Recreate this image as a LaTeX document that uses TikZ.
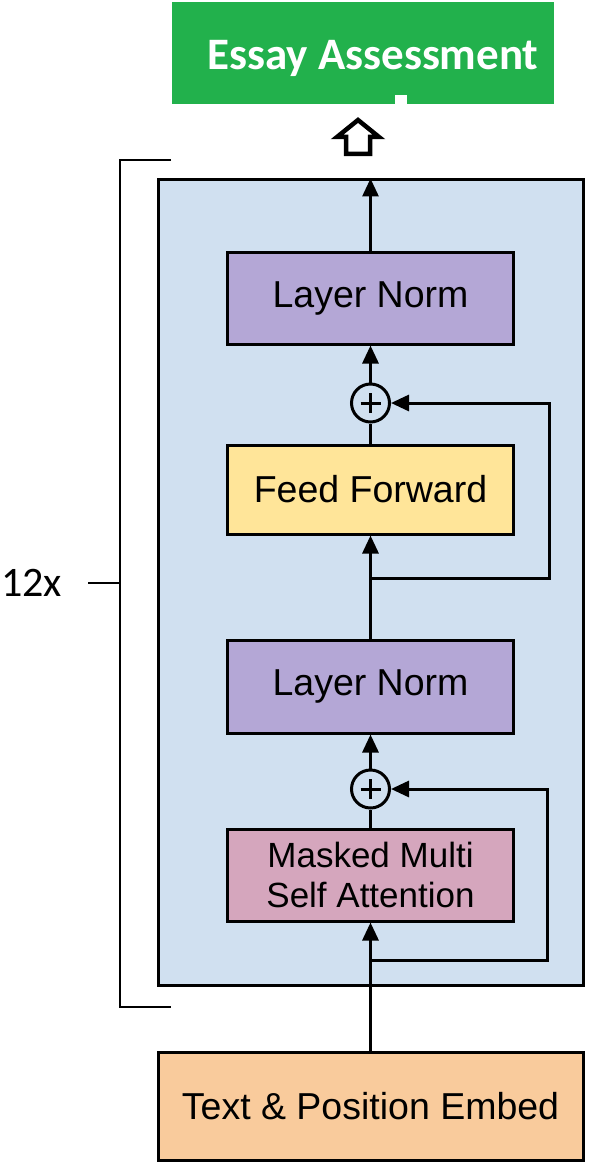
\documentclass[tikz,border=0pt]{standalone}
\usepackage{fontspec}
\setmainfont{Liberation Sans}
\newfontfamily\calib{Carlito}
\usetikzlibrary{arrows.meta}
\definecolor{bluebg}{HTML}{D0E0F0}
\definecolor{lnorm}{HTML}{B4A7D6}
\definecolor{ffwd}{HTML}{FFE599}
\definecolor{mmsa}{HTML}{D5A6BD}
\definecolor{embc}{HTML}{F9CB9C}
\definecolor{greenc}{HTML}{22B14C}
\tikzset{
  blk/.style={draw=black, line width=3pt, minimum width=286pt, inner sep=0pt, align=center,
    font=\fontsize{37.5}{42}\selectfont},
  conn/.style={line width=3pt},
  arr/.style={line width=3pt, -{Triangle[length=18pt,width=16pt]}},
  addc/.style={draw=black, line width=3pt, circle, minimum size=38pt, inner sep=0pt,
    path picture={\draw[line width=3pt] ([xshift=-10pt]path picture bounding box.center) -- ([xshift=10pt]path picture bounding box.center);
                  \draw[line width=3pt] ([yshift=-10pt]path picture bounding box.center) -- ([yshift=10pt]path picture bounding box.center);}},
  brk/.style={line width=2pt}
}
\begin{document}
\begin{tikzpicture}[x=1pt,y=-1pt]
\useasboundingbox (0,0) rectangle (590,1166);
% green output box
\fill[greenc] (172,2) rectangle (554,104);
\fill[white] (395,95) rectangle (407,104);
\node[anchor=base, text=white, font=\calib\bfseries\fontsize{45}{50}\selectfont, inner sep=0pt] (essay) at (373,70) {Essay Assessment};
% hollow arrow
\draw[line width=4.5pt, line join=miter, fill=white] (358,120) -- (379,137) -- (370,137) -- (370,154) -- (346,154) -- (346,137) -- (337,137) -- cycle;
% blue container
\node[draw=black, fill=bluebg, line width=3pt, minimum width=425pt, minimum height=805pt, inner sep=0pt] (blue) at (370.5,582.5) {};
% blocks
\node[blk, fill=lnorm, minimum height=92pt] (ln1) at (370.5,298) {Layer Norm};
\node[blk, fill=ffwd, minimum height=89pt] (ff) at (370.5,489.5) {Feed Forward};
\node[blk, fill=lnorm, minimum height=93pt] (ln2) at (370.5,686.5) {Layer Norm};
\node[blk, fill=mmsa, minimum height=92pt, font=\fontsize{35}{40}\selectfont] (mm) at (370.5,875) {Masked Multi\\Self Attention};
\node[blk, fill=embc, minimum width=425pt, minimum height=108pt] (emb) at (370.5,1106) {Text \& Position Embed};
\node[addc] (c1) at (370.5,403) {};
\node[addc] (c2) at (370.5,789) {};
% main flow
\draw[arr] (emb.north) -- (mm.south);
\draw[conn] (mm.north) -- (c2.south);
\draw[arr] (c2.north) -- (ln2.south);
\draw[arr] (ln2.north) -- (ff.south);
\draw[conn] (ff.north) -- (c1.south);
\draw[arr] (c1.north) -- (ln1.south);
\draw[arr] (ln1.north) -- (blue.north);
% residual loops
\coordinate (f2) at (370.5,960);
\coordinate (r2) at (547,789);
\draw[arr] (f2) -| (r2) -- (c2.east);
\coordinate (f1) at (370.5,578);
\coordinate (r1) at (549,403);
\draw[arr] (f1) -| (r1) -- (c1.east);
% bracket
\coordinate (b1) at (171,160);
\coordinate (b2) at (120,160);
\coordinate (b3) at (120,1007);
\coordinate (b4) at (171,1007);
\coordinate (t1) at (88,583);
\coordinate (t2) at (120,583);
\draw[brk] (b1) -- (b2) -- (b3) -- (b4);
\draw[brk] (t1) -- (t2);
\node[font=\calib\fontsize{42}{46}\selectfont, inner sep=0pt, anchor=west] (rep) at (1,583) {12x};
\end{tikzpicture}
\end{document}
